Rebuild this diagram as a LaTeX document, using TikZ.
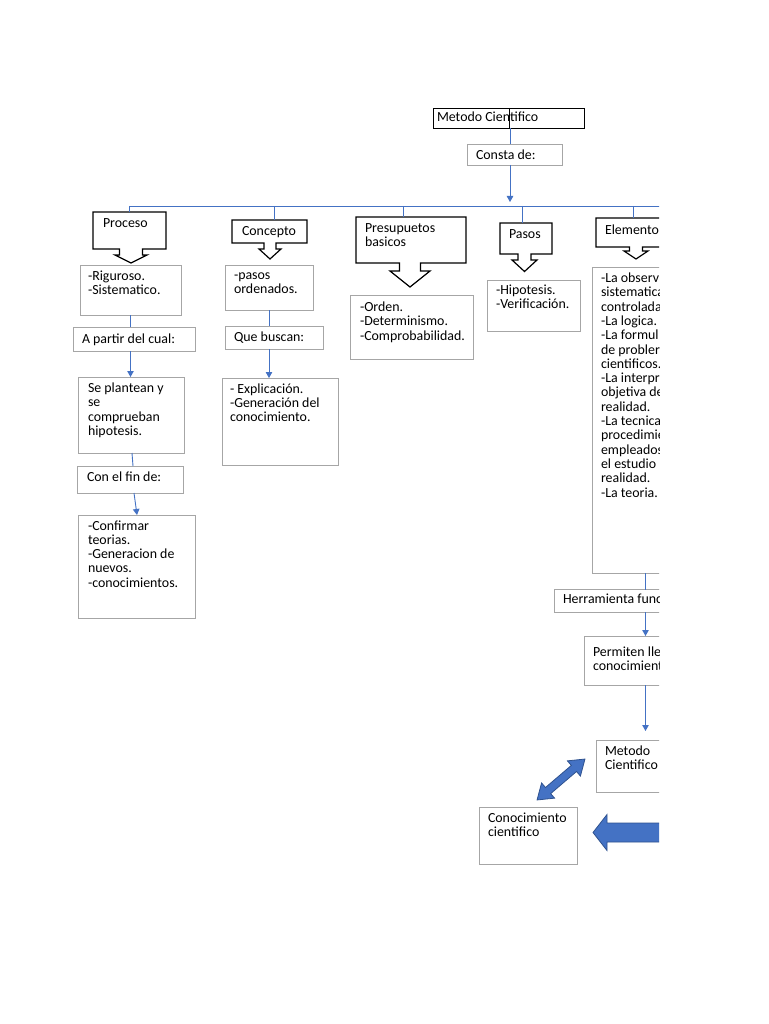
\documentclass[tikz,border=0pt]{standalone}
\usepackage{fontspec}
\setmainfont{Carlito}
\usetikzlibrary{arrows.meta}
\definecolor{wblue}{HTML}{4472C4}
\definecolor{wbluedk}{HTML}{2F528F}
\definecolor{bgray}{HTML}{A6A6A6}
% #1 style, #2 name, #3 x, #4 y, #5 w, #6 h, #7 top pad, #8 left pad, #9 text
\newcommand\tbox[9][tb]{\node[#1, anchor=north west, inner sep=0pt, outer sep=0pt] (#2) at (#3,#4) {\begin{minipage}[t][#6pt][t]{#5pt}\vspace*{#7pt}\raggedright\leftskip=#8pt\relax\strut #9\end{minipage}};}
% callout outline: x1 y1 x2 y2 cx shaft-halfwidth head-halfwidth shaft-end tip
\newcommand\callshape[9]{\draw[callline] (#1,#2) -- (#3,#2) -- (#3,#4) -- (#5+#6,#4) -- (#5+#6,#8) -- (#5+#7,#8) -- (#5,#9) -- (#5-#7,#8) -- (#5-#6,#8) -- (#5-#6,#4) -- (#1,#4) -- cycle;}
\tikzset{
  tb/.style={draw=bgray, line width=0.8pt, fill=white},
  tbk/.style={draw=black, line width=0.8pt, fill=white},
  cl/.style={},
  callline/.style={draw=black, line width=1.2pt, fill=white, line join=miter},
  conn/.style={wblue, line width=0.9pt},
  arr/.style={conn, -{Triangle[length=6pt,width=6.5pt]}},
  blk/.style={fill=wblue, draw=wbluedk, line width=0.8pt, line join=miter},
  every node/.style={font=\fontsize{13.9}{14.3}\selectfont}
}
\begin{document}
\begin{tikzpicture}[x=1pt,y=-1pt]
\useasboundingbox[fill=white] (0,0) rectangle (768,1024);
\begin{scope}
\clip (0,0) rectangle (659,1024);
% callout outlines
\callshape{93}{212}{166}{249}{131}{11.5}{16}{255}{263}
\callshape{232}{220}{307}{243}{270}{6}{11}{249}{259}
\callshape{356}{217}{466}{263}{410}{10.5}{20}{271}{287}
\callshape{500}{223}{552}{254}{524.5}{6.5}{12.5}{260}{271.5}
\callshape{596}{218}{700}{247}{636}{6.5}{12}{251}{259}
% callout texts
\tbox[cl]{proceso}{93}{212}{73}{37}{5}{10}{Proceso}
\tbox[cl]{concepto}{232}{220}{75}{23}{5}{10}{Concepto}
\tbox[cl]{presup}{356}{217}{110}{46}{5.5}{9}{Presupuetos\\basicos}
\tbox[cl]{pasos}{500}{223}{52}{31}{5}{9}{Pasos}
\tbox[cl]{elementos}{596}{218}{104}{29}{6}{9}{Elemento}
% boxes
\tbox[tbk]{metodo1}{433}{108}{151}{20}{3.5}{4}{Metodo Cientifico}
\tbox{consta}{467}{144}{95}{21}{5}{9}{Consta de:}
\tbox{riguroso}{80}{265}{101}{50}{5}{8}{-Riguroso.\\-Sistematico.}
\tbox{pasosord}{225}{265}{88}{45}{4}{9}{-pasos\\ordenados.}
\tbox{presuptext}{350}{295}{123}{64}{6.5}{10}{-Orden.\\-Determinismo.\\-Comprobabilidad.}
\tbox{hipotesis}{487}{280}{93}{51}{4.5}{9}{-Hipotesis.\\-Verificación.}
\tbox{elemtext}{592}{267}{110}{306}{5.5}{9}{-La observ\\sistematica\\controlada\\-La logica.\\-La formul\\de probler\\cientificos.\\-La interpr\\objetiva de\\realidad.\\-La tecnica\\procedimie\\empleados\\el estudio\\realidad.\\-La teoria.}
\tbox{apartir}{73}{327}{122}{24}{6}{9}{A partir del cual:}
\tbox{quebuscan}{225}{326}{98}{23}{5}{9}{Que buscan:}
\tbox{seplantean}{78}{377}{106}{76}{5.5}{10}{Se plantean y\\se\\comprueban\\hipotesis.}
\tbox{explicacion}{222}{378}{116}{87}{5}{8}{- Explicación.\\-Generación del\\conocimiento.}
\tbox{confin}{77}{466}{106}{27}{5}{10}{Con el fin de:}
\tbox{confirmar}{78}{515}{117}{103}{5}{10}{-Confirmar\\teorias.\\-Generacion de\\nuevos.\\-conocimientos.}
\tbox{herramienta}{554}{589.5}{130}{22.5}{4}{9}{Herramienta func}
\tbox{permiten}{584}{636}{110}{49}{10}{9}{Permiten lle\\conocimient}
\tbox{metodo2}{596}{740}{100}{52}{5}{9}{Metodo\\Cientifico}
\tbox{conoc}{479}{807}{98}{57}{5}{9}{Conocimiento\\cientifico}
% connectors
\coordinate (bus) at (0,206);
\coordinate (busend) at (700,206);
\draw[conn] (proceso.north |- bus) -- (busend);
\draw[conn] (proceso.north |- bus) -- (proceso.north);
\coordinate (dc) at ([xshift=4.5pt]concepto.north);
\draw[conn] (dc |- bus) -- (dc);
\coordinate (dp) at ([xshift=-8pt]presup.north);
\draw[conn] (dp |- bus) -- (dp);
\coordinate (ds) at ([xshift=-4pt]pasos.north);
\draw[conn] (ds |- bus) -- (ds);
\coordinate (de) at ([xshift=-15pt]elementos.north);
\draw[conn] (de |- bus) -- (de);
\coordinate (m) at ([xshift=1.5pt]metodo1.south);
\draw[conn] (m) -- (m |- consta.north);
\draw[arr, shorten >=4pt] (m |- consta.south) -- (m |- bus);
\draw[black, line width=0.8pt] ([xshift=0.5pt]metodo1.north) -- ([xshift=0.5pt]metodo1.south);
\draw[conn] (riguroso.south) -- (riguroso.south |- apartir.north);
\draw[arr] (riguroso.south |- apartir.south) -- (riguroso.south |- seplantean.north);
\draw[conn] ([xshift=1pt]seplantean.south) -- ([xshift=3pt]confin.north);
\draw[arr] ([xshift=4pt]confin.south) -- ([xshift=0.5pt]confirmar.north);
\draw[conn] (pasosord.south) -- (pasosord.south |- quebuscan.north);
\draw[arr] (pasosord.south |- quebuscan.south) -- (pasosord.south |- explicacion.north);
\coordinate (ecol) at (645.5,0);
\draw[conn] (elemtext.south -| ecol) -- (herramienta.north -| ecol);
\draw[arr] (herramienta.south -| ecol) -- (permiten.north -| ecol);
\draw[arr, shorten >=9pt] (permiten.south -| ecol) -- (metodo2.north -| ecol);
% block arrows
\begin{scope}[shift={(561,779.5)}, rotate=40.5]
\draw[blk] (31.5,0) -- (17,10) -- (17,4) -- (-17,4) -- (-17,10) -- (-31.5,0) -- (-17,-10) -- (-17,-4) -- (17,-4) -- (17,-10) -- cycle;
\end{scope}
\draw[blk] (700,823) -- (607,823) -- (607,814.5) -- (593,832.5) -- (607,850.5) -- (607,842) -- (700,842) -- cycle;
\end{scope}
\end{tikzpicture}
\end{document}
